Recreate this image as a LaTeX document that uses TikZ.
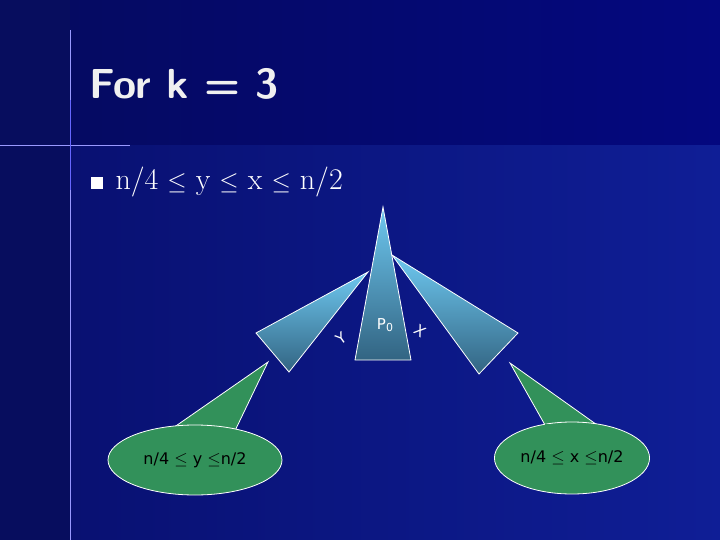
\documentclass[tikz,border=0pt]{standalone}
\usepackage{fontspec}
\newfontfamily\dv{DejaVu Sans}
\usetikzlibrary{shapes.geometric}
\definecolor{bgA}{RGB}{15,30,150}
\definecolor{bgB}{RGB}{8,15,110}
\definecolor{bgT}{RGB}{5,10,95}
\definecolor{tri1}{RGB}{110,200,240}
\definecolor{tri2}{RGB}{50,100,130}
\definecolor{callg}{RGB}{50,145,90}
\tikzset{tri/.style={draw=white,line width=0.8pt,top color=tri1,bottom color=tri2},
 call/.style={draw=white,line width=0.8pt,fill=callg},
 lbl/.style={text=white,font=\dv\fontsize{15}{18}\selectfont}}
\begin{document}
\begin{tikzpicture}[x=1pt,y=-1pt]
\useasboundingbox (0,0) rectangle (720,540);
\fill[left color=bgB,right color=bgA] (0,0) rectangle (720,540);
\fill[left color=bgT,right color=bgT!80!blue] (0,0) rectangle (720,145);
\fill[bgB!85!black] (0,0) rectangle (70,540);
\draw[white!60!blue,line width=0.6pt] (0,145) -- (130,145);
\draw[white!60!blue,line width=0.6pt] (70,30) -- (70,540);
\draw[white!40!blue,line width=1pt] (70,100) -- (70,190);
\node[anchor=west,text=white!88!gray,font=\sffamily\bfseries\fontsize{42}{48}\selectfont] (title) at (86,84) {For k = 3};
\fill[white] (91,177) rectangle (103,189);
\node[anchor=west,text=white,font=\fontsize{30}{34}\selectfont] (bul) at (112,182) {n/4 $\leq$ y $\leq$ x $\leq$ n/2};
\coordinate (ca) at (383,207); \coordinate (cl) at (355,360); \coordinate (cr) at (411,360);
\path[tri] (ca) -- (cr) -- (cl) -- cycle;
\coordinate (la) at (368,272); \coordinate (l1) at (256,333); \coordinate (l2) at (289,372);
\path[tri] (la) -- (l1) -- (l2) -- cycle;
\coordinate (ra) at (392,255); \coordinate (r1) at (518,333); \coordinate (r2) at (479,374);
\path[tri] (ra) -- (r1) -- (r2) -- cycle;
\node[lbl] (p0) at (385,325) {P\raisebox{-0.3ex}{\fontsize{11}{12}\selectfont 0}};
\node[lbl,rotate=35] (ylab) at (341,338) {Y};
\node[lbl,rotate=-35] (xlab) at (420,331) {X};
\coordinate (lt) at (268,362); \coordinate (rt) at (510,363);
\path[call] (lt) -- (232,437) -- (170,430) -- cycle;
\node[call,ellipse,minimum width=174pt,minimum height=70pt,text=black,font=\dv\fontsize{16}{18}\selectfont] (le) at (195,460) {n/4 $\leq$ y $\leq$n/2};
\fill[callg] (232,436) -- (168,429) -- (170,440) -- (232,445) -- cycle;
\path[call] (rt) -- (545,425) -- (600,427) -- cycle;
\node[call,ellipse,minimum width=144pt,minimum height=72pt,text=black,font=\dv\fontsize{16}{18}\selectfont] (re) at (572,458) {n/4 $\leq$ x $\leq$n/2};
\fill[callg] (545,424) -- (601,426) -- (600,436) -- (545,436) -- cycle;
\end{tikzpicture}
\end{document}
